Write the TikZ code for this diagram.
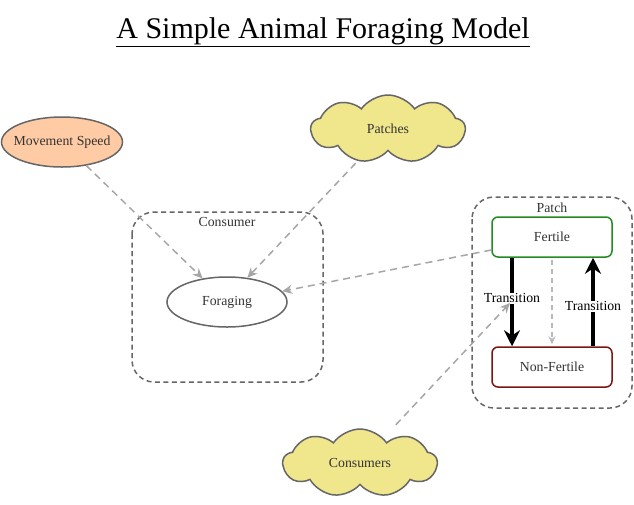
\documentclass[tikz,border=0pt]{standalone}
\usepackage{fontspec}
\setmainfont{Liberation Serif}[Ligatures=TeX]
\newfontfamily\tnr{Liberation Serif}
\usetikzlibrary{shapes.geometric,shapes.symbols,arrows.meta}
\definecolor{peach}{HTML}{FFCBA4}
\definecolor{khaki}{HTML}{F0E68C}
\definecolor{edgegray}{HTML}{666666}
\definecolor{dashgray}{HTML}{A6A6A6}
\definecolor{lightdash}{HTML}{B8B8B8}
\definecolor{fertgreen}{HTML}{228B22}
\definecolor{nonred}{HTML}{7B1414}
\definecolor{txt}{HTML}{333333}
\begin{document}
\begin{tikzpicture}[x=1pt,y=-1pt,
  lbl/.style={font=\tnr\fontsize{13.8}{16}\selectfont, text=txt},
  oval/.style={ellipse, draw=edgegray, line width=1.5pt, lbl, inner sep=0pt},
  puff/.style={cloud, cloud puffs=9, cloud puff arc=110, cloud ignores aspect, draw=edgegray, line width=1.5pt, fill=khaki, lbl, minimum width=154pt, minimum height=68pt, inner sep=0pt},
  group/.style={draw=edgegray, line width=1.5pt, dash pattern=on 5pt off 3.5pt, rounded corners=22pt},
  state/.style={rectangle, rounded corners=6pt, line width=1.5pt, minimum width=120pt, minimum height=40pt, lbl, fill=white},
  infl/.style={draw=dashgray, line width=1.5pt, dash pattern=on 7pt off 5pt, -{Stealth[length=10pt,width=9pt]}},
  trans/.style={draw=black, line width=4pt, -{Stealth[length=16pt,width=16pt]}},
  tlabel/.style={lbl, text=black, fill=white, inner sep=1pt}]

\useasboundingbox (0,0) rectangle (634,504);

% title
\node[anchor=base, font=\tnr\fontsize{30}{34}\selectfont, text=black] (title) at (323,38) {\underline{A Simple Animal Foraging Model}};

% groups
\draw[group] (132,212) rectangle (323,382);
\node[lbl] (consumerlbl) at (227,222) {Consumer};
\draw[group] (472,197) rectangle (632,408);
\node[lbl] (patchlbl) at (552,208) {Patch};

% nodes
\node[oval, fill=peach, minimum width=121pt, minimum height=50pt] (ms) at (62,142) {\makebox[0pt]{Movement Speed}};
\node[oval, fill=white, minimum width=120pt, minimum height=50pt] (for) at (227,302) {\makebox[0pt]{Foraging}};
\node[puff] (pat) at (388,129) {Patches};
\node[puff] (con) at (360,463) {Consumers};
\node[state, draw=fertgreen] (fer) at (552,237) {Fertile};
\node[state, draw=nonred] (non) at (552,367) {Non-Fertile};

% influence edges
\draw[infl] (ms) -- (for);
\draw[infl, shorten <=3pt] (pat) -- (for.50);
\draw[infl] ([yshift=-13pt]fer.west) -- (for.11);
\draw[infl, draw=lightdash, line width=1.3pt, dash pattern=on 5pt off 4pt, -{Stealth[length=8pt,width=7pt]}, shorten <=2pt, shorten >=2pt] (fer.south) -- (non.north);

% transitions
\draw[trans] ([xshift=-40pt]fer.south) -- node[tlabel, pos=0.46] (t1) {Transition} ([xshift=-40pt]non.north);
\draw[trans] ([xshift=41pt]non.north) -- node[tlabel, pos=0.45] (t2) {Transition} ([xshift=41pt]fer.south);

\coordinate (ct) at (510,303);
\draw[infl, shorten <=18pt] (con) -- (ct);
\end{tikzpicture}
\end{document}
